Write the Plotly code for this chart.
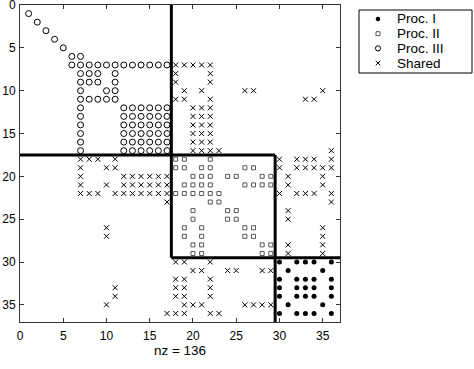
import plotly.graph_objects as go

# ---------------- data (row index -> list of nonzero columns) ----------------
proc1_rows = [30, 31, 32, 33, 34, 35, 36]
proc1_cols = [[30, 32, 33, 34, 36], [31, 35], [30, 32, 33, 34, 36],
              [30, 32, 33, 34, 36], [30, 32, 33, 34, 36], [31, 35],
              [30, 32, 33, 34, 36]]

proc2_rows = [18, 19, 20, 21, 22, 23, 24, 25, 26, 27, 28, 29]
proc2_cols = [[18, 19, 22], [18, 19, 21, 22, 26, 27], [20, 21, 22, 24, 25, 28, 29],
              [19, 20, 21, 22, 26, 27, 28, 29], [18, 19, 20, 21, 22, 23], [22, 23],
              [20, 24, 25], [20, 24, 25], [19, 21, 26, 27], [19, 21, 26, 27],
              [20, 21, 28, 29], [20, 21, 28, 29]]

proc3_rows = [1, 2, 3, 4, 5, 6, 7, 8, 9, 10, 11, 12, 13, 14, 15, 16, 17]
proc3_cols = [[1], [2], [3], [4], [5], [6, 7],
              [6, 7, 8, 9, 10, 11, 12, 13, 14, 15, 16, 17],
              [7, 8, 9, 11], [7, 8, 9, 11], [7, 10, 11], [7, 8, 9, 10, 11],
              [7, 12, 13, 14, 15, 16, 17], [7, 12, 13, 14, 15, 16, 17],
              [7, 12, 13, 14, 15, 16, 17], [7, 12, 13, 14, 15, 16, 17],
              [7, 12, 13, 14, 15, 16, 17], [7, 12, 13, 14, 15, 16, 17]]

shared_rows = [7, 8, 9, 10, 11, 12, 13, 14, 15, 16, 17, 18, 19, 20, 21, 22, 23,
               24, 25, 26, 27, 28, 29, 30, 31, 32, 33, 34, 35, 36]
shared_cols = [[18, 19, 20, 21, 22], [18, 22], [18, 22], [19, 21, 26, 27, 35],
               [18, 19, 22, 33, 34], [20, 21, 22], [20, 21, 22], [20, 21, 22],
               [20, 21, 22], [20, 21, 22], [20, 21, 22, 23, 36],
               [7, 8, 9, 11, 30, 32, 33, 34, 36],
               [7, 10, 11, 30, 32, 33, 34, 35, 36],
               [7, 12, 13, 14, 15, 16, 17, 31, 35],
               [7, 10, 12, 13, 14, 15, 16, 17, 31, 35],
               [7, 8, 9, 11, 12, 13, 14, 15, 16, 17, 30, 32, 33, 34, 36],
               [17, 36], [31], [31], [10, 35], [10, 35], [31, 35], [31, 35],
               [18, 19, 22], [20, 21, 24, 25, 28, 29], [18, 19, 22],
               [11, 18, 19, 22], [11, 18, 19, 22],
               [10, 19, 20, 21, 26, 27, 28, 29], [17, 18, 19, 22, 23]]

series_names = ["Proc. I", "Proc. II", "Proc. III", "Shared"]
partition_bounds = [17.5, 29.5]
matrix_size = 37
tick_values = [0, 5, 10, 15, 20, 25, 30, 35]
nz_label = "nz = 136"

# ---------------- styles ----------------
FONT = "Liberation Sans, Arial, Helvetica, sans-serif"
styles = [
    dict(symbol="circle", size=5, color="black", line=dict(width=0)),
    dict(symbol="square-open", size=4, color="#555555", line=dict(width=1, color="#555555")),
    dict(symbol="circle-open", size=6, color="black", line=dict(width=1, color="black")),
    dict(symbol="x-thin-open", size=5, color="black", line=dict(width=1, color="black")),
]


def expand(rows, cols):
    xs, ys = [], []
    for r, cl in zip(rows, cols):
        for c in cl:
            xs.append(c)
            ys.append(r)
    return xs, ys


fig = go.Figure()
for name, (rows, cols), st in zip(series_names,
                                  [(proc1_rows, proc1_cols), (proc2_rows, proc2_cols),
                                   (proc3_rows, proc3_cols), (shared_rows, shared_cols)],
                                  styles):
    xs, ys = expand(rows, cols)
    fig.add_trace(go.Scatter(x=xs, y=ys, mode="markers", name=name,
                             marker=st, showlegend=False, hoverinfo="x+y+name"))

# partition lines
a, b = partition_bounds
N = matrix_size
line_style = dict(color="black", width=3)
for (x0, y0, x1, y1) in [(a, 0, a, b), (0, a, b, a), (b, a, b, N), (a, b, N, b)]:
    fig.add_shape(type="line", x0=x0, y0=y0, x1=x1, y1=y1, xref="x", yref="y",
                  line=line_style, layer="above")

# ---------------- manual legend (pixel layout) ----------------
W, H = 474, 369
ML, MR, MT, MB = 20, 134, 5, 47
pw, ph = W - ML - MR, H - MT - MB


def px(xp):
    return (xp - ML) / pw


def py(yp):
    return (H - MB - yp) / ph


fig.add_shape(type="rect", xref="paper", yref="paper",
              x0=px(359), x1=px(472), y0=py(73), y1=py(10),
              line=dict(color="black", width=1), fillcolor="white", layer="above")

leg_x_marker = 378
leg_x_text = 395
for i, name in enumerate(series_names):
    yc = 19 + 14.7 * i
    xa, ya = px(leg_x_marker), py(yc)
    if i == 0:
        fig.add_shape(type="circle", xref="paper", yref="paper", xsizemode="pixel",
                      ysizemode="pixel", xanchor=xa, yanchor=ya, x0=-2.3, x1=2.3,
                      y0=-2.3, y1=2.3, fillcolor="black", line=dict(width=0))
    elif i == 1:
        fig.add_shape(type="rect", xref="paper", yref="paper", xsizemode="pixel",
                      ysizemode="pixel", xanchor=xa, yanchor=ya, x0=-2, x1=2,
                      y0=-2, y1=2, line=dict(width=1, color="#555555"))
    elif i == 2:
        fig.add_shape(type="circle", xref="paper", yref="paper", xsizemode="pixel",
                      ysizemode="pixel", xanchor=xa, yanchor=ya, x0=-2.6, x1=2.6,
                      y0=-2.6, y1=2.6, line=dict(width=1, color="black"))
    else:
        fig.add_shape(type="path", xref="paper", yref="paper", xsizemode="pixel",
                      ysizemode="pixel", xanchor=xa, yanchor=ya,
                      path="M-2.3,-2.3L2.3,2.3M-2.3,2.3L2.3,-2.3",
                      line=dict(width=1, color="black"))
    fig.add_annotation(x=px(leg_x_text), y=ya, xref="paper", yref="paper",
                       text=name, showarrow=False, xanchor="left", yanchor="middle",
                       font=dict(family=FONT, size=13.5, color="black"))

axis_common = dict(
    showgrid=False, zeroline=False, showline=True, linecolor="#333333", linewidth=1,
    mirror="ticks", ticks="inside", ticklen=4, tickwidth=1, tickcolor="#333333",
    tickvals=tick_values, tickfont=dict(family=FONT, size=12, color="black"),
    automargin=False, ticklabeloverflow="allow",
)

fig.update_layout(
    width=W, height=H,
    margin=dict(l=ML, r=MR, t=MT, b=MB),
    paper_bgcolor="white", plot_bgcolor="white",
    xaxis=dict(range=[0, N], ticklabelstandoff=3,
               title=dict(text=nz_label, standoff=3,
                          font=dict(family=FONT, size=13.5, color="black")),
               **axis_common),
    yaxis=dict(range=[N, 0], ticklabelstandoff=1, **axis_common),
    font=dict(family=FONT, color="black"),
)

fig.write_html("out.html", config={"displayModeBar": False},
               post_script="document.body.style.margin='0px';")
